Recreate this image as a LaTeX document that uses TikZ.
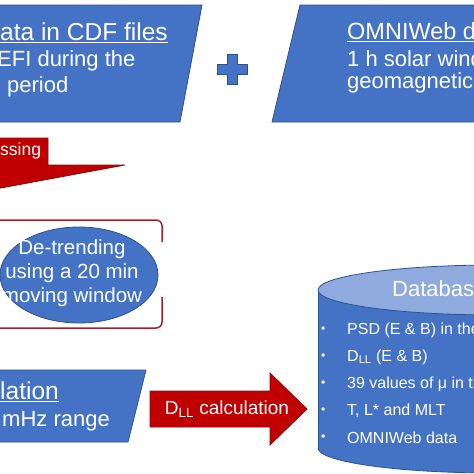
\documentclass[tikz,border=0pt]{standalone}
\usepackage{fontspec}
\setmainfont{Liberation Sans}
\usetikzlibrary{shapes.geometric}
\definecolor{blu}{HTML}{4472C4}
\definecolor{bluedge}{HTML}{2F528F}
\definecolor{bluelight}{HTML}{8FAADC}
\definecolor{rd}{HTML}{C00000}
\definecolor{rdedge}{HTML}{7F1010}
\definecolor{brk}{HTML}{A3202C}
\begin{document}
\begin{tikzpicture}[x=1pt,y=-1pt,
  bluebox/.style={fill=blu,draw=bluedge,line width=0.8pt},
  redshape/.style={fill=rd,draw=rdedge,line width=0.8pt},
  toptxt/.style={anchor=west,inner sep=0pt,text=white,font=\fontsize{22}{26}\selectfont},
  headtxt/.style={anchor=west,inner sep=0pt,text=white,font=\fontsize{24.5}{28}\selectfont},
  elltxt/.style={align=center,inner sep=0pt,text=white,font=\fontsize{20.5}{24}\selectfont},
  bultxt/.style={anchor=west,inner sep=0pt,text=white,font=\fontsize{16}{19}\selectfont},
]
\useasboundingbox (0,0) rectangle (474,474);
\clip (0,0) rectangle (474,474);
\fill[white] (0,0) rectangle (474,474);

% top-left parallelogram
\draw[bluebox] (-10,5) -- (202,5) -- (180,122) -- (-10,122) -- cycle;
\node[headtxt] (tl1) at (0,33) {\underline{ata in CDF files}};
\node[toptxt] (tl2) at (-3,61) {EFI during the};
\node[toptxt] (tl3) at (7,87) {period};

% plus
\draw[bluebox] (227,54) -- (237,54) -- (237,64) -- (247,64) -- (247,74) -- (237,74)
  -- (237,84) -- (227,84) -- (227,74) -- (217,74) -- (217,64) -- (227,64) -- cycle;

% top-right parallelogram
\draw[bluebox] (300,5) -- (490,5) -- (490,122) -- (272,122) -- cycle;
\node[headtxt,font=\fontsize{23.5}{28}\selectfont] (tr1) at (347,32) {\underline{OMNIWeb d}};
\node[toptxt] (tr2) at (347,59) {1 h solar wind};
\node[toptxt] (tr3) at (347,83) {geomagnetic};

% processing shape
\draw[redshape] (-10,138) -- (48,138) -- (48,165) -- (125,165) -- (-10,190) -- cycle;
\node[anchor=west,inner sep=0pt,text=white,font=\fontsize{17.5}{21}\selectfont] (proc) at (0,151) {ssing};

% bracket
\draw[brk,line width=1.5pt,rounded corners=6pt] (-5,220) -- (162,220) -- (162,242);
\draw[brk,line width=1.5pt,rounded corners=6pt] (162,297) -- (162,328) -- (-5,328);

% ellipse
\node[ellipse,fill=blu,draw=bluedge,line width=0.8pt,minimum width=158pt,minimum height=96pt,inner sep=0pt] (ell) at (79,275) {};
\node[elltxt] (elltext) at (72,273) {De-trending\\using a 20 min\\moving window};

% bottom-left parallelogram
\draw[bluebox] (-10,370) -- (146,370) -- (128,442) -- (-10,442) -- cycle;
\node[headtxt] (bl1) at (0,392) {\underline{lation}};
\node[toptxt] (bl2) at (2,421) {mHz range};

% DLL arrow
\draw[redshape] (150,391) -- (270,391) -- (270,373) -- (307,409) -- (270,445) -- (270,427) -- (150,427) -- cycle;
\node[inner sep=0pt,text=white,font=\fontsize{19}{22}\selectfont] (dll) at (227,409) {D\textsubscript{LL} calculation};

% cylinder
\fill[blu] (318,290) rectangle (672,448);
\fill[blu] (495,448) ellipse [x radius=177, y radius=25];
\begin{scope}
  \clip (300,448) rectangle (700,480);
  \draw[bluedge,line width=0.8pt] (495,448) ellipse [x radius=177, y radius=25];
\end{scope}
\draw[bluedge,line width=0.8pt] (318,290) -- (318,448);
\draw[bluedge,line width=0.8pt,fill=bluelight] (495,290) ellipse [x radius=177, y radius=25];
\node[anchor=west,inner sep=0pt,text=white,font=\fontsize{22}{26}\selectfont] (db) at (392,289) {Database};

\foreach \yy/\tt [count=\i] in {330/{PSD (E \& B) in the},357/{D\textsubscript{LL} (E \& B)},384/{39 values of μ in the},411/{T, L* and MLT},438/{OMNIWeb data}} {
  \node[bultxt,font=\fontsize{12}{14}\selectfont] (bul\i) at (321,\yy) {\textbullet};
  \node[bultxt] (item\i) at (347,\yy) {\tt};
}
\end{tikzpicture}
\end{document}
